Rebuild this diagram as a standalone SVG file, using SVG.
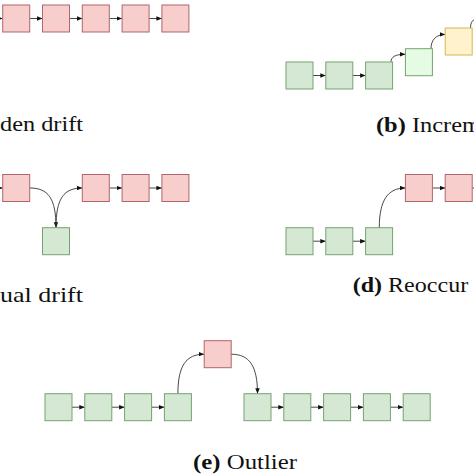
<svg xmlns="http://www.w3.org/2000/svg" width="474" height="474" viewBox="0 0 474 474">
<style>
.r{fill:#f8cecc;stroke:#b0666a;stroke-width:1}
.g{fill:#d5e8d4;stroke:#74a46e;stroke-width:1}
.lg{fill:#e6fbe3;stroke:#74a46e;stroke-width:1}
.y{fill:#fff2cc;stroke:#d6b656;stroke-width:1}
.c{fill:none;stroke:#333;stroke-width:0.9}
.a{marker-end:url(#ah)}
.t{font-family:"Liberation Serif",serif;font-size:22px;fill:#111}
.b{font-weight:bold}
</style>
<defs>
<marker id="ah" markerUnits="userSpaceOnUse" markerWidth="6" markerHeight="5" refX="5.5" refY="2.25" orient="auto">
<path d="M0,0 L5.5,2.25 L0,4.5 z" fill="#111"/>
</marker>
</defs>
<rect width="474" height="474" fill="#fff"/>
<g id="connectors">
<line class="c a" x1="-10" y1="18.5" x2="2.7" y2="18.5"/>
<line class="c a" x1="29.7" y1="18.5" x2="42.5" y2="18.5"/>
<line class="c a" x1="69.5" y1="18.5" x2="82.3" y2="18.5"/>
<line class="c a" x1="109.3" y1="18.5" x2="122.1" y2="18.5"/>
<line class="c a" x1="149.1" y1="18.5" x2="161.9" y2="18.5"/>
<line class="c a" x1="313" y1="75.5" x2="325.8" y2="75.5"/>
<line class="c a" x1="352.8" y1="75.5" x2="365.6" y2="75.5"/>
<path class="c a" d="M391 62 C391 57 395 54.3 405.4 54.3"/>
<path class="c a" d="M431 48.7 C431 40 436 34.4 445.2 34.4"/>
<path class="c" d="M470.5 28 C470.5 22 473 19 478 18"/>
<line class="c a" x1="-10" y1="188" x2="2.7" y2="188"/>
<path class="c a" d="M29.7 188 C48 188 56 198 56 227.7"/>
<path class="c a" d="M56 227.7 C56 198 64 188 82.3 188"/>
<line class="c a" x1="109.3" y1="188" x2="122.1" y2="188"/>
<line class="c a" x1="149.1" y1="188" x2="161.9" y2="188"/>
<line class="c a" x1="313" y1="241.2" x2="325.8" y2="241.2"/>
<line class="c a" x1="352.8" y1="241.2" x2="365.6" y2="241.2"/>
<path class="c a" d="M379.3 227.7 C379.3 200 388 188 405.4 188"/>
<line class="c a" x1="432.4" y1="188" x2="445.2" y2="188"/>
<line class="c" x1="472.2" y1="188" x2="480" y2="188"/>
<line class="c a" x1="72" y1="407.2" x2="84.8" y2="407.2"/>
<line class="c a" x1="111.8" y1="407.2" x2="124.6" y2="407.2"/>
<line class="c a" x1="151.6" y1="407.2" x2="164.4" y2="407.2"/>
<path class="c a" d="M177.9 393.7 C177.9 366 186 354.2 204.2 354.2"/>
<path class="c a" d="M231.2 354.2 C249.5 354.2 257.5 366 257.5 393.7"/>
<line class="c a" x1="271" y1="407.2" x2="283.8" y2="407.2"/>
<line class="c a" x1="310.8" y1="407.2" x2="323.6" y2="407.2"/>
<line class="c a" x1="350.6" y1="407.2" x2="363.4" y2="407.2"/>
<line class="c a" x1="390.4" y1="407.2" x2="403.2" y2="407.2"/>
</g>
<g id="panel-a">
<rect id="a1" class="r" x="2.7" y="5" width="27" height="27"/>
<rect id="a2" class="r" x="42.5" y="5" width="27" height="27"/>
<rect id="a3" class="r" x="82.3" y="5" width="27" height="27"/>
<rect id="a4" class="r" x="122.1" y="5" width="27" height="27"/>
<rect id="a5" class="r" x="161.9" y="5" width="27" height="27"/>
<text class="t" x="0" y="131" textLength="83" lengthAdjust="spacingAndGlyphs">den drift</text>
</g>
<g id="panel-b">
<rect id="b1" class="g" x="286" y="62" width="27" height="27"/>
<rect id="b2" class="g" x="325.8" y="62" width="27" height="27"/>
<rect id="b3" class="g" x="365.6" y="62" width="27" height="27"/>
<rect id="b4" class="lg" x="405.4" y="48.7" width="27" height="27"/>
<rect id="b5" class="y" x="445.2" y="28" width="27" height="27"/>
<text class="t" x="376" y="132" textLength="105" lengthAdjust="spacingAndGlyphs"><tspan class="b">(b)</tspan> Increm</text>
</g>
<g id="panel-c">
<rect id="c1" class="r" x="2.7" y="174.5" width="27" height="27"/>
<rect id="c2" class="g" x="42.5" y="227.7" width="27" height="27"/>
<rect id="c3" class="r" x="82.3" y="174.5" width="27" height="27"/>
<rect id="c4" class="r" x="122.1" y="174.5" width="27" height="27"/>
<rect id="c5" class="r" x="161.9" y="174.5" width="27" height="27"/>
<text class="t" x="0" y="302" textLength="83" lengthAdjust="spacingAndGlyphs">ual drift</text>
</g>
<g id="panel-d">
<rect id="d1" class="g" x="286" y="227.7" width="27" height="27"/>
<rect id="d2" class="g" x="325.8" y="227.7" width="27" height="27"/>
<rect id="d3" class="g" x="365.6" y="227.7" width="27" height="27"/>
<rect id="d4" class="r" x="405.4" y="174.5" width="27" height="27"/>
<rect id="d5" class="r" x="445.2" y="174.5" width="27" height="27"/>
<text class="t" x="352.7" y="292" textLength="115.5" lengthAdjust="spacingAndGlyphs"><tspan class="b">(d)</tspan> Reoccur</text>
</g>
<g id="panel-e">
<rect id="e1" class="g" x="45" y="393.7" width="27" height="27"/>
<rect id="e2" class="g" x="84.8" y="393.7" width="27" height="27"/>
<rect id="e3" class="g" x="124.6" y="393.7" width="27" height="27"/>
<rect id="e4" class="g" x="164.4" y="393.7" width="27" height="27"/>
<rect id="e5" class="r" x="204.2" y="340.7" width="27" height="27"/>
<rect id="e6" class="g" x="244" y="393.7" width="27" height="27"/>
<rect id="e7" class="g" x="283.8" y="393.7" width="27" height="27"/>
<rect id="e8" class="g" x="323.6" y="393.7" width="27" height="27"/>
<rect id="e9" class="g" x="363.4" y="393.7" width="27" height="27"/>
<rect id="e10" class="g" x="403.2" y="393.7" width="27" height="27"/>
<text class="t" x="193" y="468.5" textLength="104" lengthAdjust="spacingAndGlyphs"><tspan class="b">(e)</tspan> Outlier</text>
</g>
</svg>
